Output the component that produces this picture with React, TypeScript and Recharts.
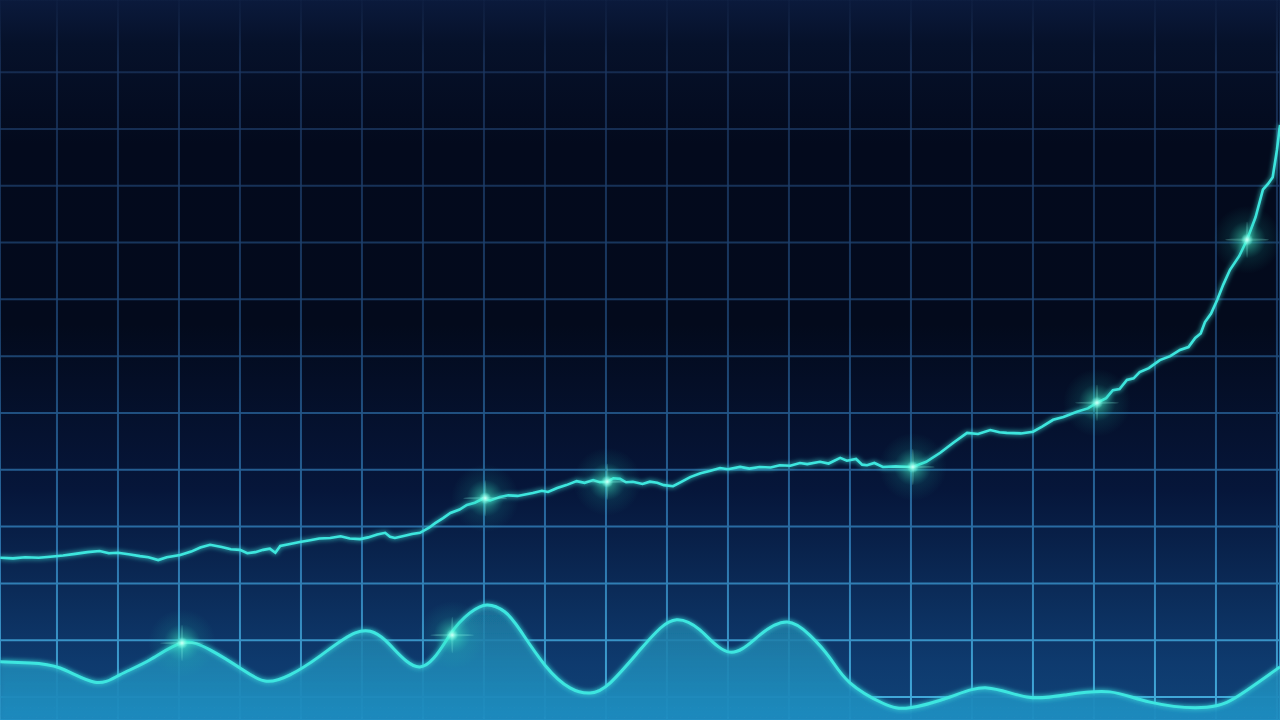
import React from "react";
import { ComposedChart, Line, Area, Scatter, XAxis, YAxis, CartesianGrid } from "recharts";

// time index: one grid column per unit; value: 10 per grid row
const gridXTicks = [0, 1, 2, 3, 4, 5, 6, 7, 8, 9, 10, 11, 12, 13, 14, 15, 16, 17, 18, 19, 20];
const gridYTicks = [0, 10, 20, 30, 40, 50, 60, 70, 80, 90, 100, 110];

const trendX = [
  -0.93, -0.72, -0.52, -0.3, -0.11, 0.1, 0.3, 0.5, 0.7, 0.85, 1.0, 1.2, 1.36, 1.5, 1.66, 1.8, 2.02, 2.2, 2.35, 2.51,
  2.7, 2.85, 3.0, 3.12, 3.25, 3.38, 3.49, 3.58, 3.66, 3.8, 3.98, 4.15, 4.3, 4.48, 4.65, 4.8, 4.97, 5.1, 5.25, 5.38,
  5.46, 5.54, 5.7, 5.82, 5.95, 6.1, 6.2, 6.33, 6.45, 6.6, 6.72, 6.85, 6.98, 7.1, 7.26, 7.4, 7.55, 7.8, 7.95, 8.05,
  8.2, 8.35, 8.52, 8.65, 8.79, 8.9, 9.02, 9.12, 9.23, 9.33, 9.44, 9.6, 9.72, 9.84, 9.95, 10.1, 10.22, 10.38, 10.55,
  10.7, 10.87, 11.0, 11.2, 11.35, 11.52, 11.7, 11.85, 12.02, 12.18, 12.3, 12.51, 12.65, 12.84, 12.95, 13.1, 13.2,
  13.28, 13.4, 13.54, 13.75, 14.03, 14.25, 14.48, 14.7, 14.92, 15.1, 15.3, 15.45, 15.57, 15.8, 16.0, 16.15, 16.33,
  16.5, 16.72, 16.9, 17.05, 17.2, 17.31, 17.42, 17.54, 17.65, 17.75, 17.9, 18.08, 18.25, 18.41, 18.55, 18.66, 18.75,
  18.82, 18.92, 19.02, 19.12, 19.23, 19.38, 19.51, 19.65, 19.77, 19.86, 19.93, 20.0, 20.05,
];
const trendY = [
  24.5, 24.4, 24.6, 24.5, 24.7, 24.9, 25.2, 25.5, 25.7, 25.3, 25.4, 25.1, 24.8, 24.6, 24.1, 24.6, 25.0, 25.6, 26.3,
  26.8, 26.4, 26.0, 25.9, 25.3, 25.5, 25.9, 26.1, 25.4, 26.6, 26.9, 27.3, 27.6, 27.9, 28.0, 28.3, 27.9, 27.8, 28.1,
  28.6, 28.9, 28.2, 28.0, 28.4, 28.7, 28.9, 29.8, 30.6, 31.5, 32.4, 33.0, 33.8, 34.2, 34.9, 34.6, 35.2, 35.5, 35.4,
  35.9, 36.3, 36.1, 36.8, 37.3, 38.0, 37.7, 38.2, 37.8, 37.9, 38.5, 38.4, 37.8, 37.9, 37.5, 37.9, 37.7, 37.3, 37.1,
  37.8, 38.7, 39.4, 39.8, 40.3, 40.1, 40.5, 40.2, 40.5, 40.4, 40.8, 40.7, 41.2, 41.0, 41.4, 41.1, 42.1, 41.6, 41.9,
  40.9, 40.8, 41.2, 40.5, 40.6, 40.5, 41.4, 43.0, 44.8, 46.5, 46.3, 47.0, 46.6, 46.5, 46.4, 46.7, 47.6, 48.8, 49.3,
  50.2, 50.8, 51.8, 52.6, 54.0, 54.2, 55.8, 56.1, 57.2, 57.9, 59.3, 60.0, 61.1, 61.6, 63.2, 64.0, 66.0, 67.5, 69.9,
  72.6, 75.2, 77.6, 80.5, 84.5, 89.3, 90.4, 91.5, 96.3, 100.7,
];

const waveX = [
  -0.93, -0.44, 0.05, 0.62, 1.03, 1.52, 2.05, 2.51, 3.0, 3.41, 3.82, 4.31, 4.89, 5.38, 5.95, 6.44, 6.77, 7.05, 7.34,
  7.59, 8.0, 8.41, 8.74, 9.07, 9.56, 9.89, 10.16, 10.54, 11.03, 11.52, 11.97, 12.34, 12.67, 13.0, 13.54, 13.98, 14.64,
  15.25, 15.9, 16.56, 17.26, 17.92, 18.85, 19.44, 20.05,
];
const waveY = [
  6.2, 6.0, 5.1, 2.6, 3.9, 6.5, 9.5, 8.3, 5.1, 2.8, 3.9, 7.2, 11.3, 10.0, 5.3, 10.9, 14.8, 16.2, 15.0, 11.8, 5.6,
  1.6, 0.7, 2.5, 8.3, 12.1, 13.6, 11.8, 7.9, 10.9, 13.2, 10.9, 6.9, 2.5, -1.1, -1.9, 0.0, 1.6, 0.0, 0.4, 0.9, -0.9,
  -1.8, 0.7, 5.3,
];

const glowX = [2.05, 6.48, 7.02, 9.02, 14.03, 17.05, 19.51];
const glowY = [9.5, 10.9, 35.0, 37.9, 40.5, 51.8, 80.5];

const trendData = trendX.map((x, i) => ({ x, y: trendY[i] }));
const waveData = waveX.map((x, i) => ({ x, y: waveY[i] }));
const glowData = glowX.map((x, i) => ({ x, y: glowY[i] }));

const GlowShape = (props: any) => {
  const { cx, cy } = props;
  if (cx == null || cy == null) return null;
  return (
    <g>
      <circle cx={cx} cy={cy} r={34} fill="url(#glowHalo)" />
      <ellipse cx={cx} cy={cy} rx={22} ry={1.2} fill="#8ffff0" opacity={0.25} />
      <ellipse cx={cx} cy={cy} rx={1.2} ry={18} fill="#8ffff0" opacity={0.22} />
      <circle cx={cx} cy={cy} r={6} fill="url(#glowCore)" />
    </g>
  );
};

export default function App() {
  return (
    <div
      style={{
        position: "fixed",
        left: 0,
        top: 0,
        width: 1280,
        height: 720,
        background:
          "linear-gradient(to bottom, #0b1a3c 0%, #06112a 6%, #030a1d 20%, #030a1c 45%, #06163a 68%, #0b2b58 82%, #0e3a6e 92%, #104378 100%)",
        overflow: "hidden",
      }}
    >
      <ComposedChart width={1280} height={720} margin={{ top: 0, right: 0, bottom: 0, left: 0 }}>
        <defs>
          <linearGradient id="gridStroke" gradientUnits="userSpaceOnUse" x1="0" y1="0" x2="0" y2="720">
            <stop offset="0%" stopColor="#1a2f55" stopOpacity={0.15} />
            <stop offset="8%" stopColor="#1c3660" stopOpacity={0.7} />
            <stop offset="45%" stopColor="#1d4472" stopOpacity={0.85} />
            <stop offset="75%" stopColor="#2a6ea6" stopOpacity={1} />
            <stop offset="100%" stopColor="#44b0e0" stopOpacity={1} />
          </linearGradient>
          <linearGradient id="waveFill" gradientUnits="userSpaceOnUse" x1="0" y1="600" x2="0" y2="720">
            <stop offset="0%" stopColor="#1b7aa0" stopOpacity={0.55} />
            <stop offset="100%" stopColor="#1f8cc0" stopOpacity={0.85} />
          </linearGradient>
          <radialGradient id="glowHalo">
            <stop offset="0%" stopColor="#6dffe0" stopOpacity={0.75} />
            <stop offset="20%" stopColor="#3ff0c8" stopOpacity={0.45} />
            <stop offset="55%" stopColor="#20c0b0" stopOpacity={0.12} />
            <stop offset="100%" stopColor="#20c0b0" stopOpacity={0} />
          </radialGradient>
          <radialGradient id="glowCore">
            <stop offset="0%" stopColor="#d8fff6" stopOpacity={0.95} />
            <stop offset="100%" stopColor="#5cffe0" stopOpacity={0} />
          </radialGradient>
          <filter id="lineGlow" x="-5%" y="-20%" width="110%" height="140%">
            <feGaussianBlur stdDeviation="2.5" result="blur" />
            <feMerge>
              <feMergeNode in="blur" />
              <feMergeNode in="SourceGraphic" />
            </feMerge>
          </filter>
        </defs>
        <XAxis
          type="number"
          dataKey="x"
          domain={[-0.934, 20.05]}
          ticks={gridXTicks}
          allowDataOverflow
          hide
        />
        <YAxis
          type="number"
          dataKey="y"
          domain={[-4.05, 122.7]}
          ticks={gridYTicks}
          allowDataOverflow
          hide
        />
        <CartesianGrid stroke="url(#gridStroke)" strokeWidth={2} />
        <Area
          data={waveData}
          dataKey="y"
          type="natural"
          baseValue="dataMin"
          stroke="#3ee6e0"
          strokeWidth={3}
          fill="url(#waveFill)"
          fillOpacity={1}
          isAnimationActive={false}
          dot={false}
          activeDot={false}
          filter="url(#lineGlow)"
        />
        <Line
          data={trendData}
          dataKey="y"
          type="linear"
          stroke="#3ee6de"
          strokeWidth={2.6}
          dot={false}
          activeDot={false}
          isAnimationActive={false}
          filter="url(#lineGlow)"
        />
        <Scatter data={glowData} dataKey="y" shape={GlowShape} isAnimationActive={false} />
      </ComposedChart>
    </div>
  );
}
